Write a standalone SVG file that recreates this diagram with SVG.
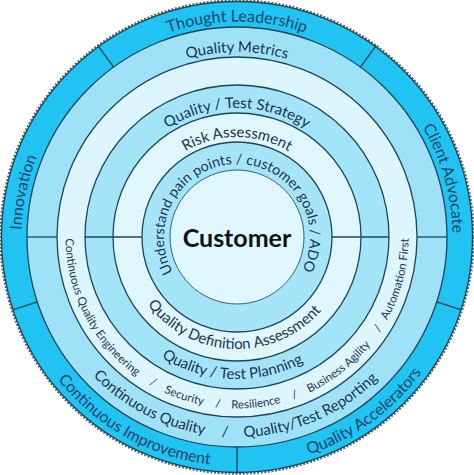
<svg xmlns="http://www.w3.org/2000/svg" width="474" height="475" viewBox="0 0 474 475">
<style>
.ring{stroke:#1d4658;stroke-width:1.3}
.div{stroke:#1d4658;stroke-width:1.3;fill:none}
.t{font-family:Lato,"Liberation Sans",sans-serif;fill:#1c3550}
.o{font-family:Lato,"Liberation Sans",sans-serif;fill:#15456c;font-size:16px}
.m{font-size:15px}
.u{font-size:14.3px}
.s{font-size:11.5px}
</style>
<defs>
<path id="oCW" d="M237,452.5A215.5,215.5 0 0 1 237,21.5A215.5,215.5 0 0 1 237,452.5"/>
<path id="oCCW" d="M237,8A229,229 0 0 0 237,466A229,229 0 0 0 237,8"/>
<path id="r2CW" d="M237,422A185,185 0 0 1 237,52A185,185 0 0 1 237,422"/>
<path id="r2CCW" d="M237,37A200,200 0 0 0 237,437A200,200 0 0 0 237,37"/>
<path id="r3CCW" d="M237,65.5A171.5,171.5 0 0 0 237,408.5A171.5,171.5 0 0 0 237,65.5"/>
<path id="r4CW" d="M237,366A129,129 0 0 1 237,108A129,129 0 0 1 237,366"/>
<path id="r4CCW" d="M237,95A142,142 0 0 0 237,379A142,142 0 0 0 237,95"/>
<path id="r5CW" d="M237,337A100,100 0 0 1 237,137A100,100 0 0 1 237,337"/>
<path id="r5CCW" d="M237,125A112,112 0 0 0 237,349A112,112 0 0 0 237,125"/>
<path id="r6CW" d="M237,310A73,73 0 0 1 237,164A73,73 0 0 1 237,310"/>
</defs>

<g id="outer-ring">
<circle cx="237" cy="237" r="236.5" fill="none" stroke="#5d676b" stroke-width="2.5" stroke-dasharray="2 1.6"/>
<circle cx="237" cy="237" r="235.5" fill="#20c3f2" class="ring" stroke-width="0.8"/>
<text class="o"><textPath href="#oCW" startOffset="50%" text-anchor="middle">Thought Leadership</textPath></text>
<text class="o"><textPath href="#oCW" startOffset="70.6%" text-anchor="middle">Client Advocate</textPath></text>
<text class="o"><textPath href="#oCW" startOffset="28.3%" text-anchor="middle">Innovation</textPath></text>
<text class="o"><textPath href="#oCCW" startOffset="41.9%" text-anchor="middle">Continuous Improvement</textPath></text>
<text class="o"><textPath href="#oCCW" startOffset="60%" text-anchor="middle">Quality Accelerators</textPath></text>
</g>

<g id="ring2">
<circle cx="237" cy="237" r="210" fill="#9fe2f7" class="ring"/>
<text class="t m"><textPath href="#r2CW" startOffset="50%" text-anchor="middle">Quality Metrics</textPath></text>
<text class="t m"><textPath href="#r2CCW" startOffset="42.3%" text-anchor="middle">Continuous Quality</textPath></text>
<text class="t m"><textPath href="#r2CCW" startOffset="49.03%" text-anchor="middle">/</textPath></text>
<text class="t m"><textPath href="#r2CCW" startOffset="56.5%" text-anchor="middle">Quality/Test Reporting</textPath></text>
</g>

<g id="ring3">
<circle cx="237" cy="237" r="180" fill="#ddf5fc" class="ring"/>
<text class="t s"><textPath href="#r3CCW" startOffset="32.6%" text-anchor="middle">Continuous Quality Engineering</textPath></text>
<text class="t s"><textPath href="#r3CCW" startOffset="41.67%" text-anchor="middle">/</textPath></text>
<text class="t s"><textPath href="#r3CCW" startOffset="44.9%" text-anchor="middle">Security</textPath></text>
<text class="t s"><textPath href="#r3CCW" startOffset="48.19%" text-anchor="middle">/</textPath></text>
<text class="t s"><textPath href="#r3CCW" startOffset="51.8%" text-anchor="middle">Resilience</textPath></text>
<text class="t s"><textPath href="#r3CCW" startOffset="55.56%" text-anchor="middle">/</textPath></text>
<text class="t s"><textPath href="#r3CCW" startOffset="60.56%" text-anchor="middle">Business Agility</textPath></text>
<text class="t s"><textPath href="#r3CCW" startOffset="65.83%" text-anchor="middle">/</textPath></text>
<text class="t s"><textPath href="#r3CCW" startOffset="70.9%" text-anchor="middle">Automation First</textPath></text>
</g>

<g id="ring4">
<circle cx="237" cy="237" r="152" fill="#a4e4f8" class="ring"/>
<text class="t m"><textPath href="#r4CW" startOffset="50%" text-anchor="middle">Quality / Test Strategy</textPath></text>
<text class="t m"><textPath href="#r4CCW" startOffset="49.44%" text-anchor="middle">Quality / Test Planning</textPath></text>
</g>

<g id="ring5">
<circle cx="237" cy="237" r="124" fill="#e0f6fd" class="ring"/>
<text class="t m"><textPath href="#r5CW" startOffset="50%" text-anchor="middle">Risk Assessment</textPath></text>
<text class="t m"><textPath href="#r5CCW" startOffset="49.44%" text-anchor="middle">Quality Definition Assessment</textPath></text>
</g>

<g id="ring6">
<circle cx="237" cy="237" r="95" fill="#a6e5f8" class="ring"/>
<text class="t u"><textPath href="#r6CW" startOffset="49.7%" text-anchor="middle">Understand pain points / customer goals / ADO</textPath></text>
</g>

<g id="customer">
<circle cx="237" cy="237" r="67" fill="#e0f6fd" stroke="#2f6478" stroke-width="1"/>
<text x="237" y="247" text-anchor="middle" font-family="Lato,'Liberation Sans',sans-serif" font-weight="bold" font-size="25" fill="#111">Customer</text>
</g>

<g id="connectors">
<line class="div" x1="113.6" y1="67.1" x2="97.7" y2="45.3"/>
<line class="div" x1="360.4" y1="67.1" x2="376.3" y2="45.3"/>
<line class="div" x1="436.7" y1="301.9" x2="461.4" y2="309.9"/>
<line class="div" x1="237" y1="447" x2="237" y2="472.5"/>
<line class="div" x1="37.3" y1="301.9" x2="12.6" y2="309.9"/>
<line class="div" x1="27" y1="237" x2="57" y2="237"/>
<line class="div" x1="417" y1="237" x2="447" y2="237"/>
<line class="div" x1="85" y1="237" x2="142" y2="237"/>
<line class="div" x1="332" y1="237" x2="389" y2="237"/>
</g>
</svg>
